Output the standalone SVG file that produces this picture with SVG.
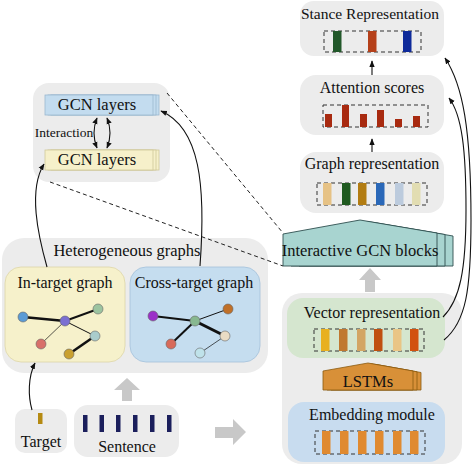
<svg xmlns="http://www.w3.org/2000/svg" width="474" height="466" viewBox="0 0 474 466">
<defs>
<style>
text{font-family:"Liberation Serif","Times New Roman",serif;fill:#111;text-anchor:middle}
.panel{fill:#ececec}
.dash{fill:none;stroke:#333;stroke-width:1;stroke-dasharray:4 3}
.conn{fill:none;stroke:#111;stroke-width:1.1}
.dl{fill:none;stroke:#222;stroke-width:1;stroke-dasharray:4 3}
.garrow{fill:#c8c8c8}
.e{stroke:#111;fill:none}
.n{stroke:#666;stroke-width:0.6}
</style>
<marker id="ah" viewBox="0 0 10 10" refX="9" refY="5" markerWidth="6" markerHeight="6" orient="auto-start-reverse">
<path d="M0,1 L10,5 L0,9 z" fill="#111"/>
</marker>
</defs>

<!-- Top-left GCN panel -->
<g id="gcn-panel">
<rect class="panel" x="33" y="83" width="137" height="99" rx="16"/>
</g>
<g id="gcn-blue">
<rect x="51" y="95" width="108" height="20" fill="#c3dcef" stroke="#9bb8d0" stroke-width="0.8"/>
<rect x="48" y="95" width="108" height="20" fill="#c3dcef" stroke="#9bb8d0" stroke-width="0.8"/>
<rect x="45" y="95" width="108" height="20" fill="#c3dcef" stroke="#9bb8d0" stroke-width="0.8"/>
<text x="97" y="109.5" font-size="16.5">GCN layers</text>
</g>
<g id="gcn-yellow">
<rect x="51" y="150" width="108" height="20" fill="#f6f0ca" stroke="#d0c89a" stroke-width="0.8"/>
<rect x="48" y="150" width="108" height="20" fill="#f6f0ca" stroke="#d0c89a" stroke-width="0.8"/>
<rect x="45" y="150" width="108" height="20" fill="#f6f0ca" stroke="#d0c89a" stroke-width="0.8"/>
<text x="97" y="164.5" font-size="16.5">GCN layers</text>
</g>
<g id="interaction-label">
<text x="64" y="137" font-size="13.5">Interaction</text>
</g>

<!-- Heterogeneous graphs panel -->
<g id="hetero-panel">
<rect class="panel" x="2" y="238" width="266" height="135" rx="22"/>
<text x="127" y="256" font-size="16.5">Heterogeneous graphs</text>
</g>
<g id="in-target">
<rect x="5" y="267" width="120" height="95" rx="16" fill="#f6f1cb" stroke="#ddd5a8" stroke-width="0.8"/>
<text x="65" y="288" font-size="16">In-target graph</text>
<line class="e" x1="23" y1="317" x2="65" y2="321" stroke-width="2.6"/>
<line class="e" x1="65" y1="321" x2="98" y2="309" stroke-width="2"/>
<line class="e" x1="65" y1="321" x2="95" y2="336" stroke-width="1"/>
<line class="e" x1="65" y1="321" x2="41" y2="344" stroke-width="0.7"/>
<line class="e" x1="95" y1="336" x2="69" y2="354" stroke-width="2.6"/>
<circle class="n" cx="23" cy="317" r="5" fill="#5b9bd5"/>
<circle class="n" cx="65" cy="321" r="5" fill="#7b70d2"/>
<circle class="n" cx="98" cy="309" r="5" fill="#9cc4a0"/>
<circle class="n" cx="95" cy="336" r="5" fill="#a9cccc"/>
<circle class="n" cx="41" cy="344" r="5" fill="#d8706a"/>
<circle class="n" cx="69" cy="354" r="5" fill="#c9a030"/>
</g>
<g id="cross-target">
<rect x="130" y="267" width="130" height="95" rx="16" fill="#c5ddef" stroke="#a5c2da" stroke-width="0.8"/>
<text x="194" y="288" font-size="16">Cross-target graph</text>
<line class="e" x1="153" y1="316" x2="195" y2="321" stroke-width="2"/>
<line class="e" x1="195" y1="321" x2="228" y2="309" stroke-width="1"/>
<line class="e" x1="195" y1="321" x2="171" y2="344" stroke-width="2"/>
<line class="e" x1="195" y1="321" x2="225" y2="336" stroke-width="3"/>
<line class="e" x1="225" y1="336" x2="200" y2="353" stroke-width="0.7" stroke="#4a6a8a"/>
<circle class="n" cx="153" cy="316" r="5" fill="#9b30c8"/>
<circle class="n" cx="195" cy="321" r="5" fill="#88b890"/>
<circle class="n" cx="228" cy="309" r="5" fill="#c07028"/>
<circle class="n" cx="171" cy="344" r="5" fill="#d86a5a"/>
<circle class="n" cx="225" cy="336" r="5" fill="#eadcc4"/>
<circle class="n" cx="200" cy="353" r="5" fill="#bfe2ea"/>
</g>

<!-- Target & Sentence -->
<g id="target">
<rect class="panel" x="15" y="409" width="52" height="44" rx="10"/>
<rect x="38" y="413" width="4.5" height="11" fill="#b58a12"/>
<text x="41" y="447" font-size="16">Target</text>
</g>
<g id="sentence">
<rect class="panel" x="74" y="405" width="105" height="52" rx="14"/>
<g fill="#1b1f5c">
<rect x="83" y="415" width="4.5" height="17"/>
<rect x="99.5" y="415" width="4.5" height="17"/>
<rect x="116" y="415" width="4.5" height="17"/>
<rect x="133" y="415" width="4.5" height="17"/>
<rect x="150" y="415" width="4.5" height="17"/>
<rect x="167" y="415" width="4.5" height="17"/>
</g>
<text x="127" y="452" font-size="16">Sentence</text>
</g>

<!-- Right column -->
<g id="stance">
<rect class="panel" x="300" y="1" width="144" height="55" rx="14"/>
<text x="370" y="19" font-size="15.5">Stance Representation</text>
<rect class="dash" x="324" y="31" width="97" height="21"/>
<rect x="333" y="31" width="8.5" height="21" fill="#22582a"/>
<rect x="368" y="31" width="8.5" height="21" fill="#b5401a"/>
<rect x="403" y="31" width="8.5" height="21" fill="#0e2a9a"/>
</g>
<g id="attention">
<rect class="panel" x="300" y="75" width="144" height="60" rx="16"/>
<text x="372" y="93" font-size="16">Attention scores</text>
<rect class="dash" x="323" y="105" width="105" height="22"/>
<g fill="#a82a10">
<rect x="325" y="114" width="7" height="13"/>
<rect x="342" y="105" width="7" height="22"/>
<rect x="360" y="114" width="7" height="13"/>
<rect x="377" y="110" width="7" height="17"/>
<rect x="395" y="119" width="7" height="8"/>
<rect x="413" y="116" width="7" height="11"/>
</g>
</g>
<g id="graph-rep">
<rect class="panel" x="300" y="152" width="144" height="61" rx="16"/>
<text x="372" y="169" font-size="16">Graph representation</text>
<rect class="dash" x="317" y="183" width="110" height="22"/>
<rect x="323" y="183" width="8.5" height="22" fill="#e6c285"/>
<rect x="342" y="183" width="8.5" height="22" fill="#1f5a20"/>
<rect x="358" y="183" width="8.5" height="22" fill="#b27c12"/>
<rect x="376" y="183" width="8.5" height="22" fill="#2a68b8"/>
<rect x="395" y="183" width="8.5" height="22" fill="#bccbdd"/>
<rect x="412" y="183" width="8.5" height="22" fill="#e2ddb2"/>
</g>
<g id="interactive-gcn">
<polygon points="299,237 376,223 453,236 453,266 299,266" fill="#a8d4d0" stroke="#2f4f4f" stroke-width="0.9"/>
<polygon points="291,235.5 368,221.5 445,234.5 445,266 291,266" fill="#a8d4d0" stroke="#2f4f4f" stroke-width="0.9"/>
<polygon points="283,234 360,220 437,233 437,266 283,266" fill="#a8d4d0" stroke="#2f4f4f" stroke-width="0.9"/>
<text x="360" y="256" font-size="16.5">Interactive GCN blocks</text>
</g>
<g id="encoder-panel">
<rect class="panel" x="282" y="293" width="180" height="171" rx="20"/>
</g>
<g id="vector-rep">
<rect x="287" y="298" width="158" height="60" rx="16" fill="#d5e6cf"/>
<text x="372" y="318" font-size="16">Vector representation</text>
<rect class="dash" x="314" y="329" width="110" height="22"/>
<rect x="321" y="329" width="8.5" height="22" fill="#e8b020"/>
<rect x="339" y="329" width="8.5" height="22" fill="#c07830"/>
<rect x="357" y="329" width="8.5" height="22" fill="#d3a563"/>
<rect x="374" y="329" width="8.5" height="22" fill="#c0500f"/>
<rect x="393" y="329" width="8.5" height="22" fill="#e9c585"/>
<rect x="410" y="329" width="8.5" height="22" fill="#d2520e"/>
</g>
<g id="lstms">
<polygon points="331,372.5 376,364.5 421,372.5 421,390 331,390" fill="#d89038" stroke="#8a5a10" stroke-width="0.8"/>
<polygon points="327,371.8 372,363.8 417,371.8 417,390 327,390" fill="#d89038" stroke="#8a5a10" stroke-width="0.8"/>
<polygon points="323,371 368,363 413,371 413,390 323,390" fill="#d89038" stroke="#8a5a10" stroke-width="0.8"/>
<text x="368" y="387" font-size="16.5">LSTMs</text>
</g>
<g id="embedding">
<rect x="288" y="402" width="157" height="60" rx="16" fill="#c8dcef"/>
<text x="372" y="420" font-size="16">Embedding module</text>
<rect class="dash" x="315" y="431" width="110" height="23"/>
<g fill="#e08a30">
<rect x="322" y="431" width="8.5" height="23"/>
<rect x="340" y="431" width="8.5" height="23"/>
<rect x="358" y="431" width="8.5" height="23"/>
<rect x="375" y="431" width="8.5" height="23"/>
<rect x="393" y="431" width="8.5" height="23"/>
<rect x="410" y="431" width="8.5" height="23"/>
</g>
</g>

<!-- Connectors -->
<g id="connectors">
<line class="dl" x1="167" y1="93" x2="283" y2="233"/>
<line class="dl" x1="50" y1="182" x2="283" y2="266"/>
<path class="conn" d="M97,118 C93,128 93,138 97,148" marker-start="url(#ah)" marker-end="url(#ah)"/>
<path class="conn" d="M107,118 C111,128 111,138 107,148" marker-start="url(#ah)" marker-end="url(#ah)"/>
<path class="conn" d="M47,267 C38,235 28,190 44,164" marker-end="url(#ah)"/>
<path class="conn" d="M200,266 C206,185 200,128 161,111" marker-end="url(#ah)"/>
<path class="conn" d="M32,410 C28,396 28,377 35,363" marker-end="url(#ah)"/>
<line class="conn" x1="372" y1="75" x2="372" y2="61" marker-end="url(#ah)"/>
<line class="conn" x1="372" y1="152" x2="372" y2="139" marker-end="url(#ah)"/>
<path class="conn" d="M444,340 C466,322 471,290 471,220 C471,130 463,85 445,58" marker-end="url(#ah)"/>
<path class="conn" d="M443,317 C460,300 466,270 466,210 C466,150 462,115 449,98" marker-end="url(#ah)"/>
<polygon class="garrow" points="122,401 132,401 132,390 140,390 127,378 114,390 122,390"/>
<polygon class="garrow" points="215,427 233,427 233,419 246,432 233,445 233,438 215,438"/>
<polygon class="garrow" points="365,292 375,292 375,280 381,280 370,268 359,280 365,280"/>
</g>
</svg>
